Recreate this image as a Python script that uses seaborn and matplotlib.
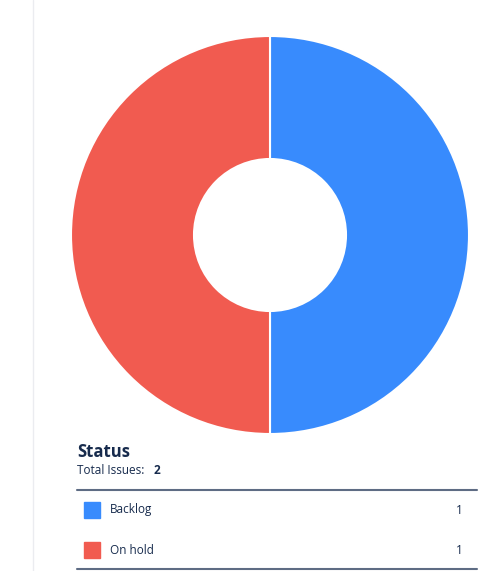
import matplotlib
matplotlib.use("Agg")
import matplotlib.pyplot as plt
import seaborn as sns
from matplotlib.patches import Rectangle
from matplotlib.lines import Line2D

categories = ["Backlog", "On hold"]
values = [1, 1]
colors = ["#388BFD", "#F15B50"]
title = "Status"

sns.set_theme(style="white")
plt.rcParams['font.family'] = ['Open Sans', 'DejaVu Sans']

W, H = 483, 571
fig = plt.figure(figsize=(W/100, H/100), dpi=100)
fig.patch.set_facecolor("white")

def fx(x): return x / W
def fy(y): return 1 - y / H

# pie axes
cx, cy, r = 270, 235, 199
ax = fig.add_axes([fx(cx - r), fy(cy + r), 2*r/W, 2*r/H])
ax.pie(values, colors=colors, startangle=90, counterclock=False,
       radius=1, wedgeprops=dict(width=1 - 76/199, edgecolor="white", linewidth=1.5))
ax.set_xlim(-1, 1); ax.set_ylim(-1, 1)
ax.set_aspect("auto")
ax.axis("off")

# left border line
fig.add_artist(Line2D([fx(33), fx(33)], [0, 1], color="#EBECF0", lw=1))

fig.text(fx(77), fy(452), title, fontsize=12, fontweight="bold", color="#172B4D", va="center")
fig.text(fx(77), fy(470), "Total Issues: ", fontsize=8.5, color="#172B4D", va="center")
fig.text(fx(77 + 77), fy(470), str(sum(values)), fontsize=8.5, fontweight="bold", color="#172B4D", va="center")

fig.add_artist(Line2D([fx(77), fx(477)], [fy(490), fy(490)], color="#5E6C84", lw=1.5))
fig.add_artist(Line2D([fx(77), fx(477)], [fy(569), fy(569)], color="#5E6C84", lw=1.5))

rows_y = [510, 550]
for i, (cat, val, col) in enumerate(zip(categories, values, colors)):
    y = rows_y[i]
    fig.add_artist(Rectangle((fx(84), fy(y + 8)), 16/W, 16/H, color=col))
    fig.text(fx(110), fy(y), cat, fontsize=8.5, color="#172B4D", va="center")
    fig.text(fx(463), fy(y), str(val), fontsize=8.5, color="#172B4D", va="center", ha="right")

fig.savefig("out.png", dpi=100)
